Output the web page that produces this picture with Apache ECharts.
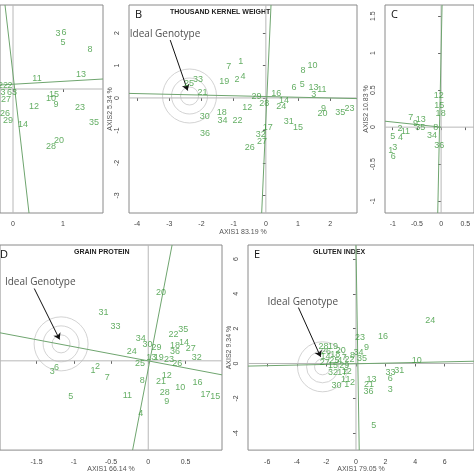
<!DOCTYPE html>
<html><head><meta charset="utf-8">
<script src="https://cdn.jsdelivr.net/npm/echarts@6/dist/echarts.min.js"></script>
<style>html,body{margin:0;padding:0;background:#fff}#c{width:474px;height:474px}</style>
</head><body><div id="c"></div>
<script>
// Genotype scores per panel: [axis1, axis2, label]
const pointsA = [[0.9,1.1,'3'],[1.02,1.12,'6'],[1.0,0.92,'5'],[1.54,0.78,'8'],[0.48,0.2,'11'],[1.36,0.28,'13'],[0.82,-0.12,'15'],[0.76,-0.2,'10'],[0.86,-0.32,'9'],[0.42,-0.36,'12'],[1.34,-0.38,'23'],[1.62,-0.68,'35'],[0.2,-0.72,'14'],[0.92,-1.04,'20'],[0.76,-1.16,'28'],[-0.2,0.06,'22'],[-0.06,0.06,'2'],[-0.2,-0.08,'3'],[-0.02,-0.08,'63'],[-0.14,-0.22,'27'],[-0.16,-0.5,'26'],[-0.1,-0.64,'29']];
const pointsB = [[-0.78,1.11,'1'],[-1.15,0.98,'7'],[-1.29,0.5,'19'],[-0.9,0.58,'2'],[-0.71,0.67,'4'],[-2.11,0.57,'33'],[-2.39,0.44,'25'],[-1.97,0.18,'21'],[-0.29,0.03,'29'],[0.32,0.13,'16'],[-0.05,-0.17,'28'],[0.56,-0.08,'14'],[0.48,-0.25,'24'],[-0.58,-0.3,'12'],[1.15,0.84,'8'],[1.45,1.0,'10'],[0.87,0.33,'6'],[1.13,0.42,'5'],[1.48,0.31,'13'],[1.74,0.25,'11'],[1.49,0.12,'3'],[1.79,-0.31,'9'],[1.76,-0.49,'20'],[2.31,-0.45,'35'],[2.6,-0.33,'23'],[-1.37,-0.44,'18'],[-1.9,-0.56,'30'],[-1.35,-0.69,'34'],[-0.88,-0.7,'22'],[-1.89,-1.1,'36'],[0.71,-0.71,'31'],[1.0,-0.9,'15'],[0.06,-0.9,'17'],[-0.16,-1.12,'32'],[-0.12,-1.34,'27'],[-0.5,-1.54,'26']];
const pointsC = [[-0.63,0.13,'7'],[-0.53,0.05,'9'],[-0.42,0.1,'13'],[-0.43,-0.01,'35'],[-0.85,-0.02,'2'],[-0.74,-0.06,'11'],[-0.84,-0.14,'4'],[-1.0,-0.12,'5'],[-1.04,-0.31,'1'],[-0.96,-0.27,'3'],[-0.99,-0.4,'6'],[-0.11,0.0,'8'],[-0.19,-0.11,'34'],[-0.04,-0.25,'36'],[-0.05,0.43,'12'],[-0.04,0.29,'15'],[-0.01,0.18,'18']];
const pointsD = [[0.17,0.93,'20'],[-0.6,0.65,'31'],[-0.44,0.46,'33'],[0.34,0.36,'22'],[0.47,0.43,'35'],[-0.1,0.3,'34'],[-0.01,0.22,'30'],[0.11,0.18,'29'],[0.36,0.21,'18'],[0.48,0.25,'14'],[0.36,0.13,'36'],[0.57,0.17,'27'],[-0.22,0.13,'24'],[0.04,0.04,'13'],[0.14,0.05,'19'],[0.28,0.02,'23'],[0.39,-0.04,'26'],[0.65,0.04,'32'],[-0.11,-0.04,'25'],[-1.29,-0.14,'3'],[-1.23,-0.09,'6'],[-0.74,-0.13,'1'],[-0.68,-0.08,'2'],[-0.55,-0.23,'7'],[-0.08,-0.27,'8'],[0.25,-0.2,'12'],[0.17,-0.28,'21'],[0.43,-0.36,'10'],[0.66,-0.3,'16'],[0.22,-0.43,'28'],[0.25,-0.55,'9'],[0.77,-0.45,'17'],[0.9,-0.49,'15'],[-1.04,-0.48,'5'],[-0.28,-0.47,'11'],[-0.1,-0.71,'4']];
const pointsE = [[5.03,2.45,'24'],[0.28,1.51,'23'],[1.83,1.55,'16'],[0.71,0.89,'9'],[-2.19,1.0,'28'],[-1.55,1.0,'19'],[-1.03,0.75,'20'],[-2.02,0.66,'26'],[-1.4,0.51,'18'],[0.17,0.62,'34'],[0.41,0.28,'35'],[-0.24,0.43,'8'],[-0.8,0.34,'7'],[-0.43,0.25,'22'],[-2.06,0.38,'14'],[-1.46,0.17,'25'],[-1.1,0.17,'4'],[-2.11,0.06,'27'],[-1.55,-0.09,'15'],[-0.8,-0.13,'29'],[-1.55,-0.51,'32'],[-0.93,-0.51,'17'],[-0.62,-0.47,'12'],[-0.69,-0.92,'11'],[-0.24,-1.08,'2'],[-0.62,-1.23,'1'],[-1.31,-1.28,'30'],[4.11,0.19,'10'],[2.34,-0.51,'33'],[2.93,-0.38,'31'],[2.32,-0.85,'6'],[2.32,-1.51,'3'],[1.05,-0.92,'13'],[0.88,-1.23,'21'],[0.84,-1.6,'36'],[1.21,-3.55,'5']];
// Reference lines per panel: [x1,y1,x2,y2,kind]
const linesA = [[-0.26,0,1.8,0,'g'],[0,-2.48,0,1.68,'g'],[-0.26,0.08,1.8,0.2,'c'],[-0.16,1.68,0.32,-2.48,'c']];
const linesB = [[-4.25,0,2.83,0,'g'],[0,-3.54,0,2.86,'g'],[-4.25,0.14,2.83,-0.02,'c'],[0.16,2.86,-0.13,-3.54,'c']];
const linesC = [[-1.16,0,0.68,0,'g'],[0,-1.16,0,1.65,'g'],[-1.16,0.08,0.0,0.0,'c'],[-0.07,-1.16,0.02,1.65,'c']];
const linesD = [[-1.99,0,0.99,0,'g'],[0,-1.21,0,1.57,'g'],[-1.99,0.38,0.99,-0.19,'c'],[0.32,1.57,-0.21,-1.21,'c']];
const linesE = [[-7.3,0,7.98,0,'g'],[0,-4.97,0,6.8,'g'],[-7.3,-0.15,7.98,0.13,'c'],[0,6.8,0.22,-4.97,'c']];
// Ideal genotype: [cx, cy, textX, textY, arrowFromX, arrowFromY, arrowToX, arrowToY]
const idealB = [-2.37,0.06,-3.13,1.96,-2.97,1.78,-2.43,0.23];
const idealD = [-1.17,0.23,-1.45,1.06,-1.53,0.98,-1.19,0.29];
const idealE = [-2.26,-0.19,-3.6,3.53,-3.89,3.21,-2.39,0.38];
const titles = ['', 'THOUSAND KERNEL WEIGHT', '', 'GRAIN PROTEIN', 'GLUTEN INDEX'];
const letters = ['', 'B', 'C', 'D', 'E'];
const axis1Names = ['', 'AXIS1 83.19 %', '', 'AXIS1 66.14 %', 'AXIS1 79.05 %'];
const axis2Names = ['', 'AXIS2 5.34 %', 'AXIS2 10.83 %', '', 'AXIS2 9.34 %'];

const panels = [
 {rect:[0,5,103,208], x:[-0.26,1.8], y:[-2.48,1.68], pts:pointsA, lines:linesA, noY:true, sx:2},
 {rect:[129,5,228,208], x:[-4.25,2.83], y:[-3.54,2.86], pts:pointsB, lines:linesB, ideal:idealB, r:[18,36,54], sx:6},
 {rect:[385,5,135,208], x:[-1.16,0.68], y:[-1.16,1.65], pts:pointsC, lines:linesC, sx:3},
 {rect:[0,245,222,207], x:[-1.99,0.99], y:[-1.21,1.57], pts:pointsD, lines:linesD, ideal:idealD, r:[18,36,54], noY:true, sx:6},
 {rect:[248,245,272,208], x:[-7.3,7.98], y:[-4.97,6.8], pts:pointsE, lines:linesE, ideal:idealE, r:[16,32,50], sx:8}
];
const green = '#3d9a3d';
const grid=[], xAxis=[], yAxis=[], series=[], graphic=[];
panels.forEach((p,i)=>{
  grid.push({left:p.rect[0], top:p.rect[1], width:p.rect[2], height:p.rect[3], show:true, borderColor:'#8a8a8a', borderWidth:1, containLabel:false});
  const lab = {fontSize:7, color:'#444', fontFamily:'Liberation Sans', showMinLabel:false, showMaxLabel:false};
  xAxis.push({type:'value', gridIndex:i, min:p.x[0], max:p.x[1], splitNumber:p.sx, splitLine:{show:false}, axisLine:{show:false},
    axisTick:{show:true,length:3,lineStyle:{color:'#666'}}, axisLabel:Object.assign({margin:8},lab),
    name:axis1Names[i], nameLocation:'middle', nameGap:3, nameTextStyle:{fontSize:7,color:'#555'}});
  yAxis.push({type:'value', gridIndex:i, min:p.y[0], max:p.y[1], splitNumber:6, splitLine:{show:false}, axisLine:{show:false},
    axisTick:{show:!p.noY,length:3,lineStyle:{color:'#666'}}, axisLabel:Object.assign({margin:8,rotate:90,show:!p.noY},lab),
    name:axis2Names[i], nameLocation:'middle', nameGap:5, nameRotate:90, nameTextStyle:{fontSize:7,color:'#555'}});
  p.lines.forEach(l=>{
    series.push({type:'line', xAxisIndex:i, yAxisIndex:i, data:[[l[0],l[1]],[l[2],l[3]]], symbol:'none', silent:true,
      lineStyle:{color:l[4]==='g'?'#b8b8b8':'#6fa56f', width:1}, z:2});
  });
  if(p.ideal){
    const d=p.ideal;
    p.r.forEach(s=>series.push({type:'scatter', xAxisIndex:i, yAxisIndex:i, data:[[d[0],d[1]]], symbolSize:s,
      itemStyle:{color:'rgba(0,0,0,0)', borderColor:'#c8c8c8', borderWidth:1}, silent:true, z:1}));
    series.push({type:'scatter', xAxisIndex:i, yAxisIndex:i, data:[[d[2],d[3],'Ideal Genotype']], symbolSize:0, silent:true,
      label:{show:true, formatter:'Ideal Genotype', position:'inside', fontSize:10, color:'#222', fontFamily:'Open Sans'},
      markLine:{silent:true, symbol:['none','arrow'], symbolSize:6, label:{show:false}, lineStyle:{color:'#111', width:1, type:'solid'},
        data:[[{coord:[d[4],d[5]]},{coord:[d[6],d[7]]}]]}});
  }
  series.push({type:'scatter', xAxisIndex:i, yAxisIndex:i, data:p.pts, symbolSize:0, silent:true, z:5,
    label:{show:true, formatter:q=>q.data[2], position:'inside', fontSize:9, color:green, fontFamily:'Liberation Sans'}});
  if(titles[i]) graphic.push({type:'text', left: (i===4? 313 : i===1? 170 : 74), top:p.rect[1]+4, style:{text:titles[i], fontSize:7, fontWeight:'bold', fill:'#222', fontFamily:'Liberation Sans'}});
  if(letters[i]) graphic.push({type:'text', left:(i===3?0:p.rect[0]+6), top:p.rect[1]+4, style:{text:letters[i], fontSize:11, fill:'#111', fontFamily:'Open Sans'}});
});
const chart = echarts.init(document.getElementById('c'));
chart.setOption({animation:false, backgroundColor:'#fff', grid, xAxis, yAxis, series, graphic});
</script></body></html>
